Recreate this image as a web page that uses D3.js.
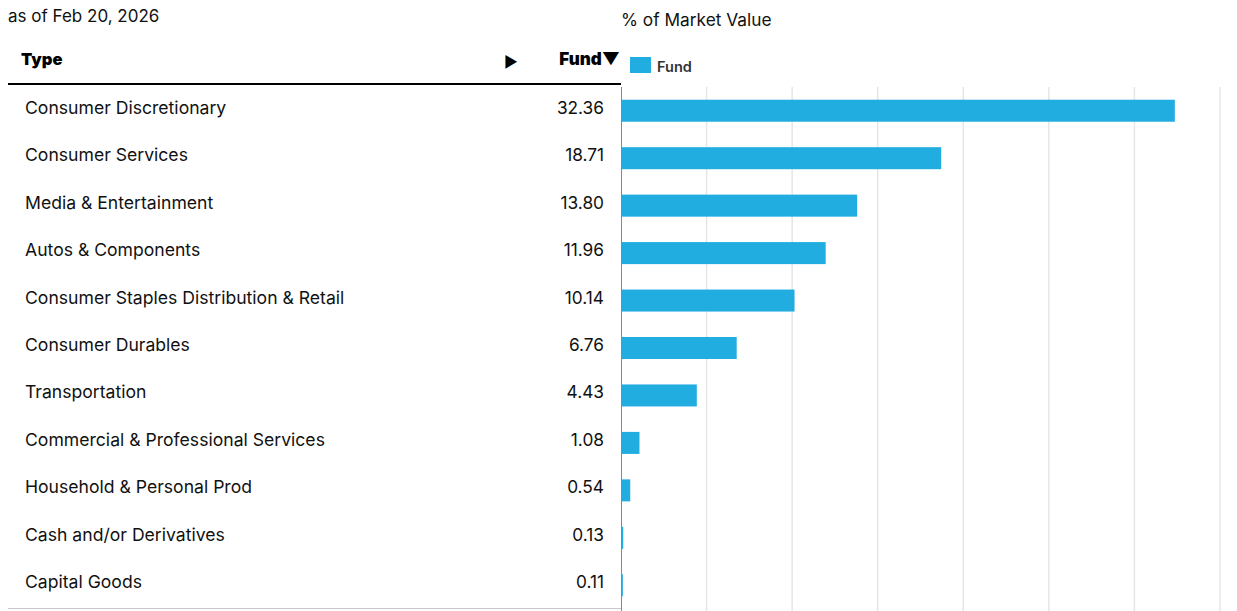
<!DOCTYPE html>
<html>
<head>
<meta charset="utf-8">
<script src="https://cdn.jsdelivr.net/npm/d3@7"></script>
<style>
  body { margin: 0; background: #fff; }
  svg { display: block; font-family: Inter, "Open Sans", sans-serif; }
</style>
</head>
<body>
<svg id="drawing_region"></svg>
<script>
// data
const categories = [
  'Consumer Discretionary', 'Consumer Services', 'Media & Entertainment',
  'Autos & Components', 'Consumer Staples Distribution & Retail', 'Consumer Durables',
  'Transportation', 'Commercial & Professional Services', 'Household & Personal Prod',
  'Cash and/or Derivatives', 'Capital Goods'
];
const fundValues = [32.36, 18.71, 13.80, 11.96, 10.14, 6.76, 4.43, 1.08, 0.54, 0.13, 0.11];
const gridTicks = [0, 5, 10, 15, 20, 25, 30, 35];

const rows = categories.map((c, i) => ({ type: c, fund: fundValues[i] }));

const width = 1237, height = 611;
const svg = d3.select('#drawing_region')
  .attr('width', width)
  .attr('height', height);

const xscale = d3.scaleLinear().domain([0, 35]).range([621, 1220]);
const yscale = d3.scaleBand().domain(categories).range([87, 609])
  .paddingInner(0.536).paddingOuter(0.268);

// top texts
svg.append('text').attr('x', 8).attr('y', 22)
  .attr('font-size', 17).attr('fill', '#111').text('as of Feb 20, 2026');
svg.append('text').attr('x', 621).attr('y', 26)
  .attr('font-size', 17.3).attr('fill', '#111').text('% of Market Value');

// table header
svg.append('text').attr('x', 21).attr('y', 65)
  .attr('font-size', 16.5).attr('font-weight', 900).attr('fill', '#000').text('Type');
svg.append('text').attr('x', 504).attr('y', 67)
  .attr('font-size', 15).attr('fill', '#000').text('▶');
svg.append('text').attr('x', 620).attr('y', 65).attr('text-anchor', 'end')
  .attr('font-size', 17).attr('font-weight', 900).attr('fill', '#000').text('Fund▼');
svg.append('line').attr('x1', 8).attr('x2', 621).attr('y1', 84).attr('y2', 84)
  .attr('stroke', '#000').attr('stroke-width', 2);
svg.append('line').attr('x1', 8).attr('x2', 621).attr('y1', 608.5).attr('y2', 608.5)
  .attr('stroke', '#c8c8c8').attr('stroke-width', 1);

// legend
svg.append('rect').attr('x', 630).attr('y', 57).attr('width', 21).attr('height', 16)
  .attr('fill', '#22ade1');
svg.append('text').attr('x', 657).attr('y', 72)
  .attr('font-size', 14.5).attr('font-weight', 600).attr('fill', '#333').text('Fund');

// grid
svg.append('g').selectAll('line')
  .data(gridTicks.slice(1))
  .join('line')
  .attr('x1', d => xscale(d)).attr('x2', d => xscale(d))
  .attr('y1', 87).attr('y2', height)
  .attr('stroke', '#e6e6e6').attr('stroke-width', 1.5);

// table rows
const row = svg.append('g').selectAll('g')
  .data(rows)
  .join('g');
row.append('text')
  .attr('x', 25)
  .attr('y', d => yscale(d.type) + yscale.bandwidth() / 2 + 3)
  .attr('font-size', 17.6).attr('fill', '#111')
  .text(d => d.type);
row.append('text')
  .attr('x', 604).attr('text-anchor', 'end')
  .attr('y', d => yscale(d.type) + yscale.bandwidth() / 2 + 3)
  .attr('font-size', 17.3).attr('fill', '#111')
  .text(d => d.fund.toFixed(2));

// bars
svg.append('g').selectAll('rect')
  .data(rows)
  .join('rect')
  .attr('x', xscale(0))
  .attr('y', d => yscale(d.type))
  .attr('width', d => xscale(d.fund) - xscale(0))
  .attr('height', yscale.bandwidth())
  .attr('fill', '#22ade1');

// axis line
svg.append('line').attr('x1', xscale(0) + 0.5).attr('x2', xscale(0) + 0.5)
  .attr('y1', 87).attr('y2', height)
  .attr('stroke', '#888').attr('stroke-width', 1);
</script>
</body>
</html>
